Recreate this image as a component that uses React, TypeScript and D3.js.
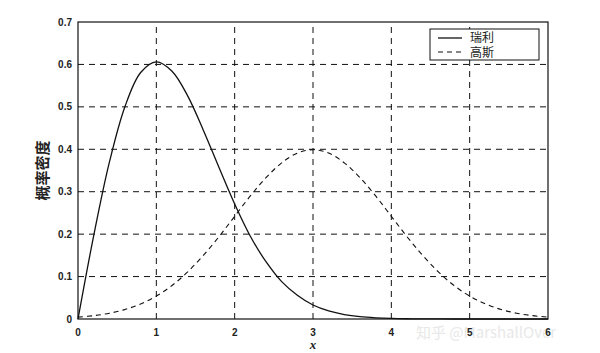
import React from "react";
import * as d3 from "d3";

const xs = [0, 0.2, 0.4, 0.6, 0.8, 1.0, 1.2, 1.4, 1.6, 1.8, 2.0, 2.2, 2.4, 2.6, 2.8, 3.0, 3.2, 3.4, 3.6, 3.8, 4.0, 4.2, 4.4, 4.6, 4.8, 5.0, 5.2, 5.4, 5.6, 5.8, 6.0];
const rayleigh = [0, 0.196, 0.369, 0.501, 0.581, 0.606, 0.584, 0.526, 0.445, 0.357, 0.271, 0.195, 0.135, 0.088, 0.056, 0.033, 0.019, 0.0105, 0.0055, 0.0028, 0.0013, 0.0006, 0.0003, 0.0001, 0, 0, 0, 0, 0, 0, 0];
const gauss = [0.0044, 0.0079, 0.0136, 0.0224, 0.0355, 0.054, 0.079, 0.111, 0.150, 0.194, 0.242, 0.290, 0.333, 0.368, 0.391, 0.399, 0.391, 0.368, 0.333, 0.290, 0.242, 0.194, 0.150, 0.111, 0.079, 0.054, 0.0355, 0.0224, 0.0136, 0.0079, 0.0044];
const xTicks = [0, 1, 2, 3, 4, 5, 6];
const yTicks = [0, 0.1, 0.2, 0.3, 0.4, 0.5, 0.6, 0.7];
const yTickLabels = ["0", "0.1", "0.2", "0.3", "0.4", "0.5", "0.6", "0.7"];
const seriesNames = ["瑞利", "高斯"];

export default function App() {
  const W = 600, H = 353;
  const x = d3.scaleLinear().domain([0, 6]).range([78, 548]);
  const y = d3.scaleLinear().domain([0, 0.7]).range([319, 22]);
  const line = d3.line<number>().x((_, i) => x(xs[i])).y((d) => y(d)).curve(d3.curveCatmullRom);
  const tickFont = "'Liberation Sans', Arial, sans-serif";
  const cjk = "'Noto Sans CJK SC', sans-serif";
  return (
    <svg width={W} height={H} style={{ position: "absolute", left: 0, top: 0, background: "#fff" }}>
      <rect x={0} y={0} width={W} height={H} fill="#fff" />
      {/* watermark */}
      <text x={416} y={338} fontSize={15} fontFamily={cjk} fill="#e8e8e8">知乎 @MarshallOver</text>
      {/* grid */}
      {xTicks.slice(1, -1).map((t) => (
        <line key={"gx" + t} x1={x(t)} x2={x(t)} y1={y(0)} y2={y(0.7)} stroke="#111" strokeWidth={1} strokeDasharray="6,5" />
      ))}
      {yTicks.slice(1, -1).map((t) => (
        <line key={"gy" + t} x1={x(0)} x2={x(6)} y1={y(t)} y2={y(t)} stroke="#111" strokeWidth={1} strokeDasharray="6,5" />
      ))}
      {/* frame */}
      <rect x={x(0)} y={y(0.7)} width={x(6) - x(0)} height={y(0) - y(0.7)} fill="none" stroke="#111" strokeWidth={1.2} />
      {/* ticks */}
      {xTicks.map((t, i) => (
        <text key={"xt" + t} x={x(t)} y={336} fontSize={10} fontFamily={tickFont} fontWeight="bold" textAnchor="middle" fill="#222">
          {String(xTicks[i])}
        </text>
      ))}
      {yTicks.map((t, i) => (
        <text key={"yt" + t} x={72} y={y(t) + 3.5} fontSize={10} fontFamily={tickFont} fontWeight="bold" textAnchor="end" fill="#222">
          {yTickLabels[i]}
        </text>
      ))}
      {/* curves */}
      <path d={line(rayleigh) || ""} fill="none" stroke="#111" strokeWidth={1.3} />
      <path d={line(gauss) || ""} fill="none" stroke="#111" strokeWidth={1.1} strokeDasharray="5,4" />
      {/* axis labels */}
      <text x={313} y={349} fontSize={13} fontFamily="'Liberation Serif', serif" fontStyle="italic" fontWeight="bold" textAnchor="middle" fill="#222">x</text>
      <text transform={`translate(48,${y(0.35)}) rotate(-90)`} fontSize={15} fontFamily={cjk} fontWeight="bold" textAnchor="middle" fill="#222">概率密度</text>
      {/* legend */}
      <rect x={430} y={29} width={109} height={31} fill="#fff" stroke="#111" strokeWidth={1} />
      <line x1={438} x2={462} y1={38} y2={38} stroke="#111" strokeWidth={1.3} />
      <line x1={438} x2={462} y1={52} y2={52} stroke="#111" strokeWidth={1.1} strokeDasharray="5,4" />
      <text x={470} y={42} fontSize={12} fontFamily={cjk} fill="#222">{seriesNames[0]}</text>
      <text x={470} y={57} fontSize={12} fontFamily={cjk} fill="#222">{seriesNames[1]}</text>
    </svg>
  );
}
